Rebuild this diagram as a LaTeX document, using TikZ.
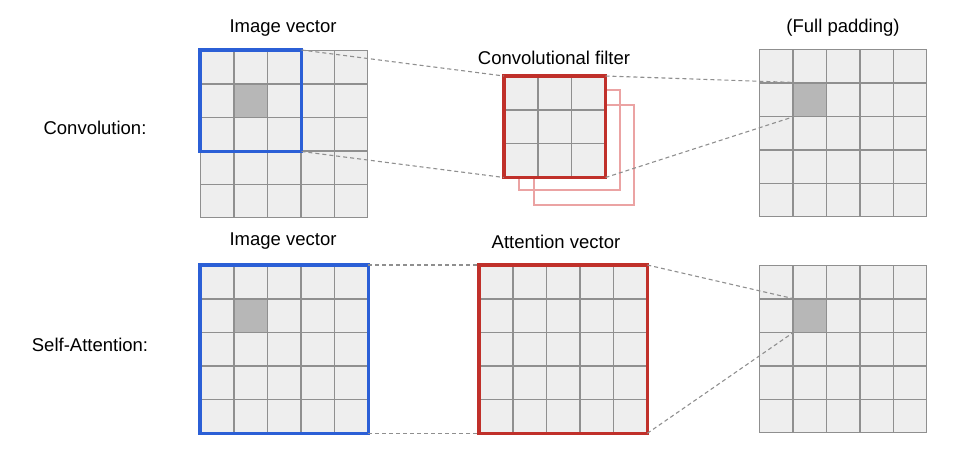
\documentclass[tikz,border=0pt]{standalone}
\usepackage{fontspec}
\setmainfont{Liberation Sans}
\definecolor{cellfill}{HTML}{EEEEEE}
\definecolor{cellline}{HTML}{8F8F8F}
\definecolor{darkcell}{HTML}{B7B7B7}
\definecolor{boxblue}{HTML}{2B5FD6}
\definecolor{boxred}{HTML}{C0302A}
\definecolor{boxpink}{HTML}{EBA3A3}
\def\cellsep{33.4}

\begin{document}
\begin{tikzpicture}[x=1pt,y=-1pt]
        \tikzstyle{cell}=[draw=cellline,fill=cellfill,line width=1.3pt,minimum size=33.4pt,inner sep=0pt,anchor=north west]
        \tikzstyle{dark cell}=[cell,fill=darkcell]
        \tikzstyle{link}=[draw=cellline,dash pattern=on 4pt off 3pt,line width=1.1pt]
        \tikzstyle{annot}=[font=\fontsize{18.5}{22}\selectfont]
        \useasboundingbox (0,0) rectangle (966,461);

        % Top row: image vector
        \foreach \i in {1,...,5}
            \foreach \j in {1,...,5}
                \node[cell] (A-\i-\j) at (200+\cellsep*\j-\cellsep,50+\cellsep*\i-\cellsep) {};
        \node[dark cell] at (A-2-2.north west) {};
        \draw[boxblue,line width=3.6pt] (A-1-1.north west) rectangle (A-3-3.south east);

        % Convolutional filter (with stacked copies behind)
        \draw[boxpink,line width=2.6pt] (534,105) rectangle (634,205);
        \draw[boxpink,line width=2.6pt] (519,90) rectangle (620,190);
        \foreach \i in {1,...,3}
            \foreach \j in {1,...,3}
                \node[cell] (F-\i-\j) at (504+\cellsep*\j-\cellsep,76+\cellsep*\i-\cellsep) {};
        \draw[boxred,line width=3.6pt] (F-1-1.north west) rectangle (F-3-3.south east);

        % Top row: output (full padding)
        \foreach \i in {1,...,5}
            \foreach \j in {1,...,5}
                \node[cell] (P-\i-\j) at (759+\cellsep*\j-\cellsep,49+\cellsep*\i-\cellsep) {};
        \node[dark cell] (P) at (P-2-2.north west) {};

        % Bottom row: image vector
        \foreach \i in {1,...,5}
            \foreach \j in {1,...,5}
                \node[cell] (B-\i-\j) at (200+\cellsep*\j-\cellsep,265+\cellsep*\i-\cellsep) {};
        \node[dark cell] at (B-2-2.north west) {};
        \draw[boxblue,line width=3.6pt] (B-1-1.north west) rectangle (B-5-5.south east);

        % Attention vector
        \foreach \i in {1,...,5}
            \foreach \j in {1,...,5}
                \node[cell] (V-\i-\j) at (479+\cellsep*\j-\cellsep,265+\cellsep*\i-\cellsep) {};
        \draw[boxred,line width=3.6pt] (V-1-1.north west) rectangle (V-5-5.south east);

        % Bottom row: output
        \foreach \i in {1,...,5}
            \foreach \j in {1,...,5}
                \node[cell] (Q-\i-\j) at (759+\cellsep*\j-\cellsep,265+\cellsep*\i-\cellsep) {};
        \node[dark cell] (Q) at (Q-2-2.north west) {};

        % Dashed connectors
        \draw[link] (A-1-3.north east) -- (F-1-1.north west);
        \draw[link] (A-3-3.south east) -- (F-3-1.south west);
        \draw[link] (F-1-3.north east) -- (P.north west);
        \draw[link] (F-3-3.south east) -- (P.south west);
        \draw[link] (B-1-5.north east) -- (V-1-1.north west);
        \draw[link] (B-5-5.south east) -- (V-5-1.south west);
        \draw[link] (V-1-5.north east) -- (Q.north west);
        \draw[link] (V-5-5.south east) -- (Q.south west);

        % Labels
        \node[annot] (l1) at (283,28) {Image vector};
        \node[annot] (l2) at (554,58) {Convolutional filter};
        \node[annot] (l3) at (843,28) {(Full padding)};
        \node[annot] (l4) at (95,128) {Convolution:};
        \node[annot] (l5) at (283,241) {Image vector};
        \node[annot] (l6) at (556,242) {Attention vector};
        \node[annot] (l7) at (90,345) {Self-Attention:};
\end{tikzpicture}
\end{document}
